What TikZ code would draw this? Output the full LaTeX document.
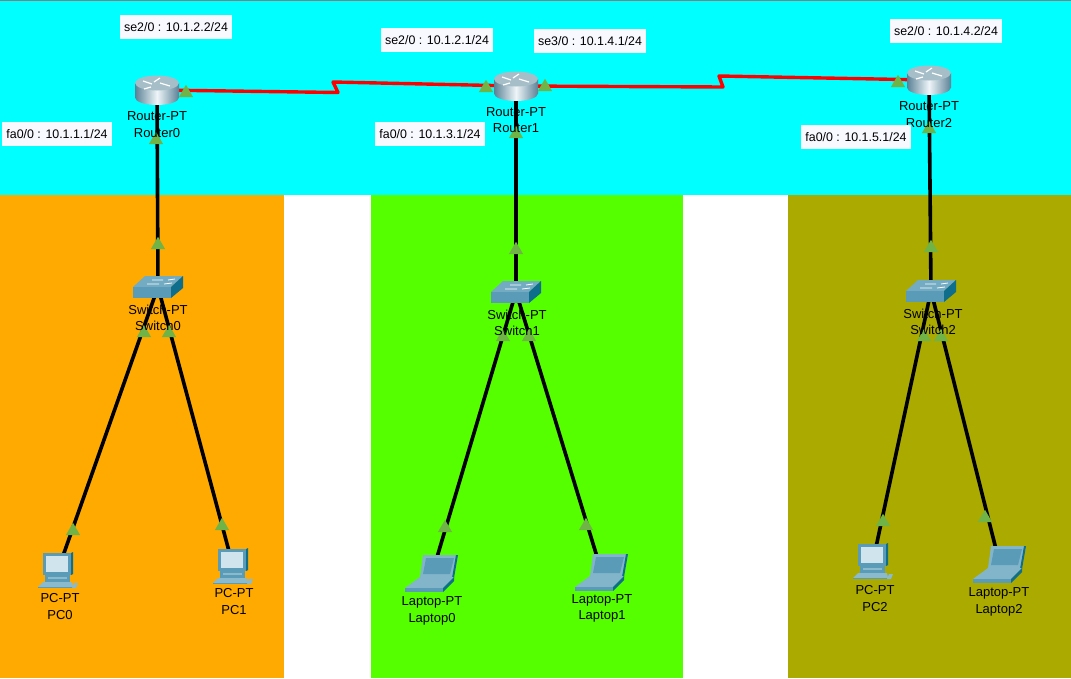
\documentclass[tikz,border=0pt]{standalone}
\usepackage{fontspec}
\setmainfont{Liberation Sans}
\usetikzlibrary{shapes.geometric}
\definecolor{mycyan}{RGB}{0,255,255}
\definecolor{myorange}{RGB}{255,170,0}
\definecolor{mylime}{RGB}{85,255,0}
\definecolor{myolive}{RGB}{170,170,0}
\definecolor{mymark}{RGB}{112,180,72}
\definecolor{mylabel}{RGB}{248,248,255}
\definecolor{myteal}{RGB}{90,156,184}
\definecolor{mydark}{RGB}{15,110,140}
\definecolor{myscreen}{RGB}{208,228,238}
\definecolor{myrouter}{RGB}{165,190,200}
\definecolor{myrouteredge}{RGB}{90,130,150}
\begin{document}
\begin{tikzpicture}[x=1pt,y=-1pt,
  ethlink/.style={line width=3.6pt,black},
  seriallink/.style={line width=3.4pt,red,line join=round},
  linkmark/.style={regular polygon,regular polygon sides=3,fill=mymark,inner sep=0pt,minimum size=16.5pt,yshift=-2pt},
  iplabel/.style={fill=mylabel,font=\fontsize{12.4}{14}\selectfont,minimum height=24pt,inner sep=4pt},
  devlabel/.style={font=\fontsize{13}{16.5}\selectfont,align=center,inner sep=0pt,yshift=-1.5pt},
  pics/routericon/.style={code={
    \path[left color=myrouteredge,right color=myrouteredge,middle color=white!90!myteal]
      (-22,-7) -- (-22,7.5) arc[start angle=180,end angle=0,x radius=22,y radius=7.5] -- (22,-7) -- cycle;
    \fill[myrouter] (0,-7) ellipse[x radius=22,y radius=7.5];
    \draw[white,line width=1.2pt] (-14,-9) -- (-5,-6) (-6,-3) -- (-13,-1) (3,-12) -- (-3,-8) (3,-7) -- (13,-4);
  }},
  pics/switchicon/.style={code={
    \fill[myteal!85!white] (-25,0) -- (-13,-11) -- (25,-11) -- (13,0) -- cycle;
    \fill[myteal] (-25,0) rectangle (13,11);
    \fill[mydark] (13,0) -- (25,-11) -- (25,1) -- (13,11) -- cycle;
    \draw[white,line width=.8pt] (-11,-3) -- (1,-3) (-6,-7) -- (5,-7) (6,-3) -- (14,-4) (10,-7) -- (17,-8);
  }},
  pics/pcicon/.style={code={
    \fill[mydark] (13,-17) -- (15,-18) -- (15,4) -- (13,5) -- cycle;
    \fill[myteal] (-15,-17) rectangle (13,5);
    \fill[myscreen] (-12,-14) rectangle (10,2);
    \fill[myteal] (-13,5) rectangle (12,12);
    \fill[myteal!70!white] (-10,7) rectangle (9,9);
    \fill[myteal!70!white] (-15,12) -- (14,12) -- (15,17) -- (-20,17) -- cycle;
    \fill[myteal] (-20,17) rectangle (15,18);
    \fill[myteal!70!white] (16,13) -- (20,13) -- (18,18) -- (14,18) -- cycle;
  }},
  pics/laptopicon/.style={code={
    \fill[myteal!75!white] (-9,-19) -- (26,-19) -- (21,3) -- (-12,3) -- cycle;
    \fill[myteal] (-6,-16) -- (22,-16) -- (18,0) -- (-9,0) -- cycle;
    \fill[mydark] (24,-19) -- (26,-19) -- (22,4) -- (20,4) -- cycle;
    \fill[myteal!75!white] (-12,3) -- (22,3) -- (11,14) -- (-27,14) -- cycle;
    \fill[myteal] (-27,14) rectangle (11,18);
    \fill[mydark] (11,14) -- (22,3) -- (22,7) -- (11,18) -- cycle;
  }}]

  \useasboundingbox (0,0) rectangle (1071,678);

  % backgrounds
  \fill[white] (0,0) rectangle (1071,678);
  \fill[mycyan] (0,0) rectangle (1071,195);
  \fill[gray] (0,0) rectangle (1071,1);
  \fill[myorange] (0,195) rectangle (284,678);
  \fill[mylime] (371,195) rectangle (683,678);
  \fill[myolive] (788,195) rectangle (1071,678);

  % device positions
  \coordinate (Router0) at (157,90);
  \coordinate (Router1) at (516,86);
  \coordinate (Router2) at (929,80);
  \coordinate (Switch0) at (158,287);
  \coordinate (Switch1) at (516,292);
  \coordinate (Switch2) at (931,291);
  \coordinate (PC0) at (58,570);
  \coordinate (PC1) at (233,566);
  \coordinate (PC2) at (873,561);
  \coordinate (Laptop0) at (432,574);
  \coordinate (Laptop1) at (602,573);
  \coordinate (Laptop2) at (1000,565);
  \coordinate (bend0a) at (338,92.5);
  \coordinate (bend0b) at (333,82);
  \coordinate (bend1a) at (723,87);
  \coordinate (bend1b) at (719,76);

  % links
  \draw[ethlink] (Router0) -- (Switch0);
  \draw[ethlink] (Router1) -- (Switch1);
  \draw[ethlink] (Router2) -- (Switch2);
  \draw[ethlink] (Switch0) -- (PC0);
  \draw[ethlink] (Switch0) -- (PC1);
  \draw[ethlink] (Switch1) -- (Laptop0);
  \draw[ethlink] (Switch1) -- (Laptop1);
  \draw[ethlink] (Switch2) -- (PC2);
  \draw[ethlink] (Switch2) -- (Laptop2);
  \draw[seriallink] (Router0) -- (bend0a) -- (bend0b) -- (Router1);
  \draw[seriallink] (Router1) -- (bend1a) -- (bend1b) -- (Router2);

  % icons
  \foreach \dev in {Router0,Router1,Router2}
    \pic at (\dev) {routericon};
  \foreach \dev in {Switch0,Switch1,Switch2}
    \pic at (\dev) {switchicon};
  \foreach \dev in {PC0,PC1,PC2}
    \pic at (\dev) {pcicon};
  \foreach \dev in {Laptop0,Laptop1,Laptop2}
    \pic at (\dev) {laptopicon};

  % link lights
  \foreach \mk/\x/\y in {a/186/91,b/156/138,c/158/243,d/144/331,e/169/331,f/73/529,g/222/524,
    h/486/86,i/545/85,j/516/132,k/516/248,l/503/335,m/529/335,n/445/526,o/586/524,
    p/898/81,q/929/127,r/931/246,s/924/335,t/941/335,u/883/520,v/985/516}
    \node[linkmark] (mark\mk) at (\x,\y) {};

  % device names
  \node[devlabel] (nameR0) at (157,123) {Router-PT\\Router0};
  \node[devlabel] (nameR1) at (516,118.5) {Router-PT\\Router1};
  \node[devlabel] (nameR2) at (929,113) {Router-PT\\Router2};
  \node[devlabel] (nameS0) at (158,316.5) {Switch-PT\\Switch0};
  \node[devlabel] (nameS1) at (517,321.5) {Switch-PT\\Switch1};
  \node[devlabel] (nameS2) at (933,320.5) {Switch-PT\\Switch2};
  \node[devlabel] (namePC0) at (60,605) {PC-PT\\PC0};
  \node[devlabel] (namePC1) at (234,600) {PC-PT\\PC1};
  \node[devlabel] (namePC2) at (875,597) {PC-PT\\PC2};
  \node[devlabel] (nameL0) at (432,609.5) {Laptop-PT\\Laptop0};
  \node[devlabel] (nameL1) at (602,607) {Laptop-PT\\Laptop1};
  \node[devlabel] (nameL2) at (999,600.5) {Laptop-PT\\Laptop2};

  % port addresses
  \node[iplabel] (ipR0se) at (176,27) {se2/0 : 10.1.2.2/24};
  \node[iplabel] (ipR0fa) at (57,134) {fa0/0 : 10.1.1.1/24};
  \node[iplabel] (ipR1se2) at (437,40) {se2/0 : 10.1.2.1/24};
  \node[iplabel] (ipR1se3) at (590,41) {se3/0 : 10.1.4.1/24};
  \node[iplabel] (ipR1fa) at (430,134) {fa0/0 : 10.1.3.1/24};
  \node[iplabel] (ipR2se) at (946,31) {se2/0 : 10.1.4.2/24};
  \node[iplabel] (ipR2fa) at (856,137) {fa0/0 : 10.1.5.1/24};

\end{tikzpicture}
\end{document}
